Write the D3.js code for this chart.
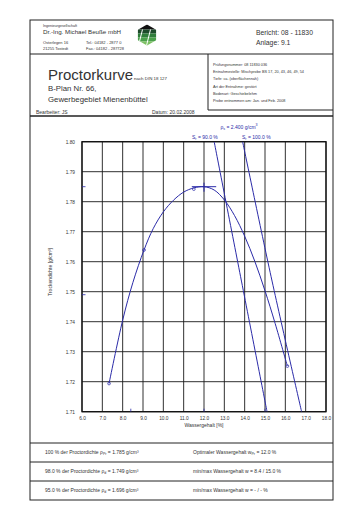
<!DOCTYPE html>
<html><head><meta charset="utf-8">
<script src="https://cdn.jsdelivr.net/npm/d3@7"></script>
<style>body{margin:0;background:#fff}svg{display:block;font-family:"Liberation Sans",Arial,sans-serif}</style>
</head><body><svg id="c" width="358" height="507"></svg>
<script>
// ---- data ----
const xTicks = [6,7,8,9,10,11,12,13,14,15,16,17,18];
const yTicks = [1.71,1.72,1.73,1.74,1.75,1.76,1.77,1.78,1.79,1.80];
const curveW   = [7.33,8.0,8.5,9.05,9.5,10.0,10.5,11.0,11.5,12.0,12.5,13.0,13.5,14.0,14.5,15.0,15.5,16.1];
const curveRho = [1.7194,1.7405,1.7530,1.7639,1.7710,1.7766,1.7805,1.7832,1.7846,1.7850,1.7839,1.7806,1.7754,1.7685,1.7601,1.7503,1.7394,1.7252];
const pointW   = [7.33,9.05,11.5,16.1];
const pointRho = [1.7194,1.7639,1.7842,1.7252];
const sr90W    = [12.5,13.8,15.1];
const sr90Rho  = [1.80,1.755,1.71];
const sr100W   = [13.9,15.3,16.8];
const sr100Rho = [1.80,1.755,1.71];
const optW = 12.0, optRho = 1.785, rho98 = 1.749;
const wMarks = [8.4,12.0,15.0];
const infoLines = ["Prüfungsnummer:  08 11830 036","Entnahmestelle:  Mischprobe BS 17, 20, 43, 46, 49, 54","Tiefe:  ca. (oberflächennah)","Art der Entnahme:  gestört","Bodenart:  Geschiebelehm","Probe entnommen am:  Jan. und Feb. 2008"];
const tableLeft = [["100 % der Proctordichte ρ","Pr"," = 1.785  g/cm³"],["98.0 % der Proctordichte ρ","d"," = 1.749  g/cm³"],["95.0 % der Proctordichte ρ","d"," = 1.696  g/cm³"]];
const tableRight = [["Optimaler Wassergehalt w","Pr"," = 12.0 %"],["min/max Wassergehalt w = 8.4 / 15.0 %","",""],["min/max Wassergehalt w =  -  /  -  %","",""]];

// ---- drawing ----
const svg = d3.select("#c");
const ink = "#333", blue = "#2b2ba8";
const L = 30, R = 333, T = 20, B = 500;

// frame
svg.append("rect").attr("x",L).attr("y",T).attr("width",R-L).attr("height",B-T).attr("fill","none").attr("stroke","#222").attr("stroke-width",1);
const hl = (y,x1,x2,w)=>svg.append("line").attr("x1",x1).attr("x2",x2).attr("y1",y).attr("y2",y).attr("stroke","#222").attr("stroke-width",w||1);
hl(54,L,R,1.2); hl(116,L,R,1.5); hl(443,L,R,1); hl(462,L,R,1); hl(481,L,R,1);
svg.append("line").attr("x1",208).attr("x2",208).attr("y1",54).attr("y2",110).attr("stroke","#222");
hl(110,208,R,1);

// header text
const txt = (x,y,s,size,opts={})=>{const t=svg.append("text").attr("x",x).attr("y",y).attr("font-size",size).attr("fill",opts.fill||ink).text(s);
 if(opts.weight) t.attr("font-weight",opts.weight); if(opts.anchor) t.attr("text-anchor",opts.anchor); return t;};
txt(43,27,"Ingenieurgesellschaft",3.6);
txt(43,34,"Dr.-Ing. Michael Beuße mbH",6.2);
txt(43,44,"Osterlegen 16",4);
txt(43,49.5,"21255 Tostedt",4);
txt(86,44,"Tel.:  04182 - 2877 0",4);
txt(86,49.5,"Fax.:  04182 - 287728",4);
txt(256,35,"Bericht: 08 - 11830",6.8);
txt(256,45,"Anlage: 9.1",6.8);

// logo
const lg = svg.append("g");
const cx=147, cy=35, r=10.5;
const hex = d3.range(6).map(i=>[cx+r*Math.cos(Math.PI/3*i+Math.PI/6), cy+r*Math.sin(Math.PI/3*i+Math.PI/6)]);
lg.append("clipPath").attr("id","hx").append("polygon").attr("points",hex.map(p=>p.join(",")).join(" "));
const stripes=[["#111",cy-r,5],["#1d4a2a",cy-r+5,4],["#2f7d3a",cy-r+9,4],["#4aa04a",cy-r+13,4],["#7cc062",cy-r+17,5]];
stripes.forEach(s=>lg.append("rect").attr("clip-path","url(#hx)").attr("x",cx-r).attr("y",s[1]).attr("width",2*r).attr("height",s[2]).attr("fill",s[0]));
[0,1].forEach(i=>lg.append("line").attr("clip-path","url(#hx)").attr("x1",cx-r+6+i*8).attr("x2",cx-r+2+i*8).attr("y1",cy-r+5).attr("y2",cy+r).attr("stroke","#fff").attr("stroke-width",1));

txt(48,80,"Proctorkurve",15);
txt(134,80,"nach DIN 18 127",4.4);
txt(48,91,"B-Plan Nr. 66,",7.8);
txt(48,102,"Gewerbegebiet Mienenbüttel",7.8);
txt(36,113.5,"Bearbeiter:  JS",5);
txt(152,113.5,"Datum:  20.02.2008",5);
infoLines.forEach((s,i)=>txt(213,66+i*7.2,s,3.8));

// ---- chart ----
const x = d3.scaleLinear().domain([6,18]).range([82,326]);
const y = d3.scaleLinear().domain([1.71,1.80]).range([411.7,141.7]);
const g = svg.append("g");
g.selectAll(".vg").data(xTicks).join("line").attr("x1",d=>x(d)).attr("x2",d=>x(d)).attr("y1",y(1.80)).attr("y2",y(1.71)).attr("stroke","#1a1a1a").attr("stroke-width",0.9);
g.selectAll(".hg").data(yTicks).join("line").attr("x1",x(6)).attr("x2",x(18)).attr("y1",d=>y(d)).attr("y2",d=>y(d)).attr("stroke","#1a1a1a").attr("stroke-width",0.9);
g.append("rect").attr("x",x(6)).attr("y",y(1.80)).attr("width",x(18)-x(6)).attr("height",y(1.71)-y(1.80)).attr("fill","none").attr("stroke","#111").attr("stroke-width",1.3);

const ax = svg.append("g").attr("transform",`translate(0,${y(1.71)})`).call(d3.axisBottom(x).tickValues(xTicks).tickFormat(d3.format(".1f")).tickSize(0).tickPadding(5));
const ay = svg.append("g").attr("transform",`translate(${x(6)},0)`).call(d3.axisLeft(y).tickValues(yTicks).tickFormat(d3.format(".2f")).tickSize(0).tickPadding(7));
[ax,ay].forEach(a=>{a.select(".domain").remove(); a.selectAll("text").attr("font-size",4.8).attr("fill",ink).attr("font-family","Liberation Sans, Arial, sans-serif");});

txt(204,427,"Wassergehalt [%]",5,{anchor:"middle"});
svg.append("text").attr("transform","translate(52,272) rotate(-90)").attr("text-anchor","middle").attr("font-size",5).attr("fill",ink).text("Trockendichte [g/cm³]");

// clipped curves
svg.append("clipPath").attr("id","pc").append("rect").attr("x",x(6)).attr("y",y(1.80)).attr("width",x(18)-x(6)).attr("height",y(1.71)-y(1.80));
const pg = svg.append("g").attr("clip-path","url(#pc)");
const line = d3.line().x(d=>x(d[0])).y(d=>y(d[1])).curve(d3.curveCatmullRom);
pg.append("path").attr("d",line(d3.zip(sr90W,sr90Rho))).attr("fill","none").attr("stroke",blue).attr("stroke-width",1);
pg.append("path").attr("d",line(d3.zip(sr100W,sr100Rho))).attr("fill","none").attr("stroke",blue).attr("stroke-width",1);
pg.append("path").attr("d",line(d3.zip(curveW,curveRho))).attr("fill","none").attr("stroke",blue).attr("stroke-width",1);
pg.selectAll(".pt").data(d3.zip(pointW,pointRho)).join("circle").attr("cx",d=>x(d[0])).attr("cy",d=>y(d[1])).attr("r",1.4).attr("fill","none").attr("stroke",blue).attr("stroke-width",0.7);

// optimum marker
svg.append("line").attr("x1",x(optW-0.6)).attr("x2",x(optW+0.6)).attr("y1",y(optRho)).attr("y2",y(optRho)).attr("stroke",blue).attr("stroke-width",1);
svg.append("line").attr("x1",x(optW)).attr("x2",x(optW)).attr("y1",y(optRho)-4).attr("y2",y(optRho)+5).attr("stroke",blue).attr("stroke-width",1);
// axis marks
[optRho,rho98].forEach(v=>svg.append("line").attr("x1",x(6)).attr("x2",x(6)+3.5).attr("y1",y(v)).attr("y2",y(v)).attr("stroke",blue).attr("stroke-width",0.8));
wMarks.forEach(v=>svg.append("line").attr("x1",x(v)).attr("x2",x(v)).attr("y1",y(1.71)).attr("y2",y(1.71)-3).attr("stroke",blue).attr("stroke-width",0.8));

// labels above plot
const lab = (xx,yy,parts)=>{const t=svg.append("text").attr("x",xx).attr("y",yy).attr("font-size",5).attr("fill",blue);
 parts.forEach(p=>{const s=t.append("tspan").text(p[0]); if(p[1]==="sub") s.attr("font-size",3.6).attr("dy",1.2); else if(p[1]==="sup") s.attr("font-size",3.6).attr("dy",-2.4); else if(p[1]) s.attr("dy",p[1]);});return t;};
lab(220.5,128.5,[["ρ"],["s","sub"],[" = 2.400 g/cm",-1.2],["3","sup"]]);
lab(192,138.5,[["S"],["r","sub"],[" = 90.0 %",-1.2]]);
lab(242,138.5,[["S"],["r","sub"],[" = 100.0 %",-1.2]]);

// table
const row = (xx,yy,p)=>{const t=svg.append("text").attr("x",xx).attr("y",yy).attr("font-size",5).attr("fill",ink);
 t.append("tspan").text(p[0]); if(p[1]){t.append("tspan").text(p[1]).attr("font-size",3.6).attr("dy",1.3); t.append("tspan").text(p[2]).attr("dy",-1.3);} };
[454,473,491.5].forEach((yy,i)=>{row(45,yy,tableLeft[i]); row(193,yy,tableRight[i]);});
</script></body></html>
